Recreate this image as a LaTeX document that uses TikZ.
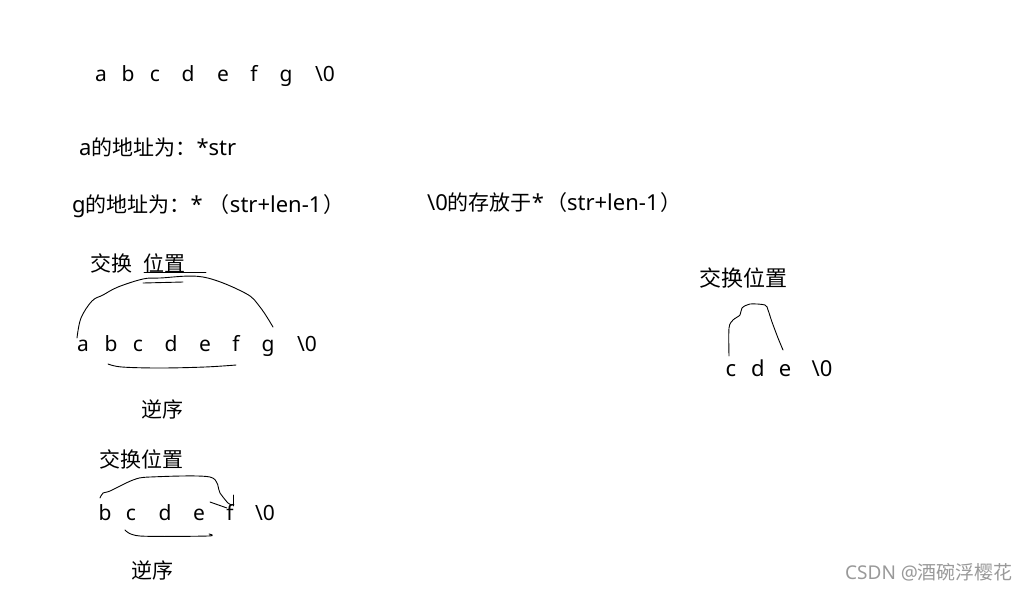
\documentclass[tikz,border=0pt]{standalone}
\usepackage{fontspec}
\setmainfont{Noto Sans}
\newfontfamily\cjk{Noto Sans CJK SC}
\newcommand\zh[1]{{\fontsize{21}{25}\cjk #1}}
\begin{document}
\begin{tikzpicture}[x=1pt, y=-1pt,
  ch/.style={anchor=base, inner sep=0pt, font=\fontsize{21}{25}\selectfont},
  note/.style={anchor=base west, inner sep=0pt, font=\fontsize{22}{26}\selectfont},
  pen/.style={line width=0.9pt, line join=round, line cap=round}]
\useasboundingbox (0,0) rectangle (1032,592);
% the string
\foreach \c/\x [count=\i] in {a/101, b/128, c/155, d/188, e/223, f/254, g/286, {\textbackslash 0}/325}
  \node [ch] (s\i) at (\x,81) {\c};
\node [note] (addra) at (79,155) {a\zh{的地址为：}*str};
\node [note] (addrg) at (72,212) {g\zh{的地址为：}*\;\zh{（}str+len-1\kern2pt\zh{）}};
\node [note] (addr0) at (427,210) {\textbackslash 0\zh{的存放于}*\kern2pt\zh{（}str+len-1\kern2pt\zh{）}};
% first swap
\node [note] (swapA) at (90,271) {\zh{交换}};
\node [note] (swapB) at (143,271) {\zh{位置}};
\foreach \c/\x [count=\i] in {a/83, b/111, c/138, d/171, e/205, f/236, g/268, {\textbackslash 0}/307}
  \node [ch] (p\i) at (\x,351) {\c};
\node [note] (revA) at (141,417) {\zh{逆序}};
\draw [pen] (144,272) -- (206,272);
\draw [pen] (143,283) -- (183,282);
\draw [pen] plot [smooth, tension=0.6] coordinates {(77,338) (81,318) (92,301) (103,295) (118,287) (143,279) (160,278) (203,277) (245,293) (260,307) (273,327)};
\draw [pen] plot [smooth, tension=0.6] coordinates {(108,364) (122,367) (160,368) (205,367) (236,365)};
% second swap
\node [note] (swapC) at (99,467) {\zh{交换位置}};
\foreach \c/\x [count=\i] in {b/105, c/131, d/165, e/199, f/230, {\textbackslash 0}/265}
  \node [ch] (q\i) at (\x,520) {\c};
\node [note] (revB) at (131,578) {\zh{逆序}};
\draw [pen] plot [smooth, tension=0.5] coordinates {(100,498) (103,493) (110,491) (133,480) (150,477) (210,477) (220,493) (228,503) (232,505)};
\draw [pen] (233,495) -- (233,506);
\draw [pen] (210,502) -- (227,508);
\draw [pen] plot [smooth, tension=0.5] coordinates {(125,530) (140,536) (208,536) (209,534)};
% third swap
\node [note, font=\fontsize{22}{26}\cjk] (swapD) at (699,286) {交换位置};
\foreach \c/\x [count=\i] in {c/731, d/758, e/785, {\textbackslash 0}/822}
  \node [ch, font=\fontsize{22}{26}\selectfont] (r\i) at (\x,376) {\c};
\draw [pen] plot [smooth, tension=0.5] coordinates {(729,356) (729,328) (733,320) (740,315) (742,308) (750,304) (765,305) (768,310) (772,322) (778,338) (783,350)};
% watermark
\node [note, font=\fontsize{19}{22}\selectfont, text=black!40] (mark) at (845,579) {CSDN @{\cjk 酒碗浮樱花}};
\end{tikzpicture}
\end{document}
